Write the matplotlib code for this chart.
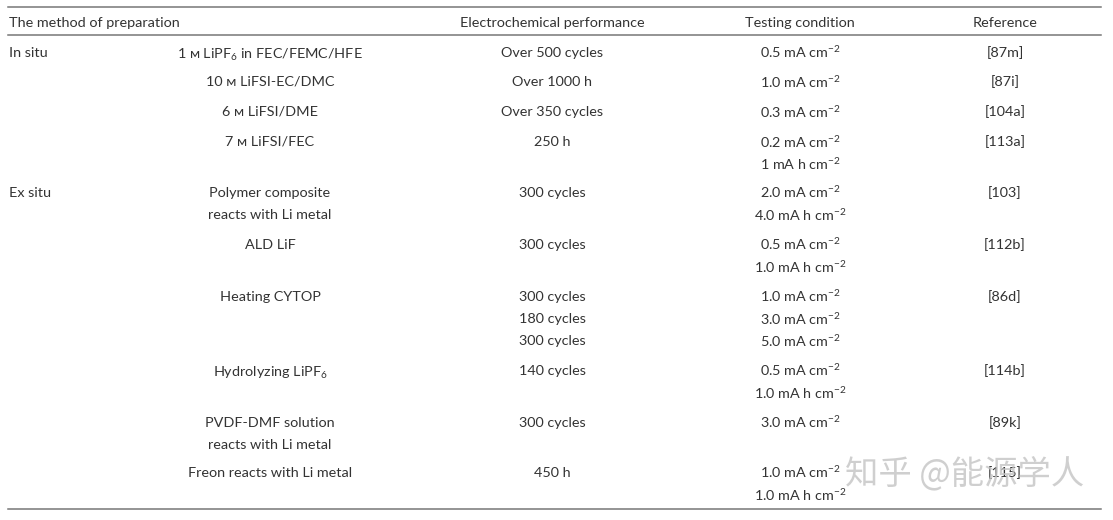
import matplotlib
matplotlib.use('Agg')
import matplotlib.pyplot as plt

plt.rcParams['font.family'] = ['Lato', 'Open Sans', 'DejaVu Sans']
plt.rcParams['mathtext.default'] = 'regular'

headers = ['The method of preparation', 'Electrochemical performance', 'Testing condition', 'Reference']

groups = ['In situ', '', '', '', 'Ex situ', '', '', '', '', '']
methods = [
    ['1 м LiPF$_6$ in FEC/FEMC/HFE'],
    ['10 м LiFSI-EC/DMC'],
    ['6 м LiFSI/DME'],
    ['7 м LiFSI/FEC'],
    ['Polymer composite', 'reacts with Li metal'],
    ['ALD LiF'],
    ['Heating CYTOP'],
    ['Hydrolyzing LiPF$_6$'],
    ['PVDF-DMF solution', 'reacts with Li metal'],
    ['Freon reacts with Li metal'],
]
performance = [
    ['Over 500 cycles'],
    ['Over 1000 h'],
    ['Over 350 cycles'],
    ['250 h'],
    ['300 cycles'],
    ['300 cycles'],
    ['300 cycles', '180 cycles', '300 cycles'],
    ['140 cycles'],
    ['300 cycles'],
    ['450 h'],
]
conditions = [
    ['0.5 mA cm$^{-2}$'],
    ['1.0 mA cm$^{-2}$'],
    ['0.3 mA cm$^{-2}$'],
    ['0.2 mA cm$^{-2}$', '1 mA h cm$^{-2}$'],
    ['2.0 mA cm$^{-2}$', '4.0 mA h cm$^{-2}$'],
    ['0.5 mA cm$^{-2}$', '1.0 mA h cm$^{-2}$'],
    ['1.0 mA cm$^{-2}$', '3.0 mA cm$^{-2}$', '5.0 mA cm$^{-2}$'],
    ['0.5 mA cm$^{-2}$', '1.0 mA h cm$^{-2}$'],
    ['3.0 mA cm$^{-2}$'],
    ['1.0 mA cm$^{-2}$', '1.0 mA h cm$^{-2}$'],
]
references = ['[87m]', '[87i]', '[104a]', '[113a]', '[103]', '[112b]', '[86d]', '[114b]', '[89k]', '[115]']

# table layout in pixels, y is the text baseline
header_y = 27
row_y = [57, 86, 116, 146, 197, 249, 301, 375, 427, 477]
line_step = 22.2
col_x = [270, 552, 800, 1005]
text_color = '#333333'
font_size = 10.4


def draw_lines(ax, x, y, lines):
    for i, line in enumerate(lines):
        # mathtext sits a bit high on the baseline
        shift = 1.5 if '$' in line else 0
        ax.text(x, y + i * line_step + shift, line, ha='center', va='baseline',
                color=text_color, fontsize=font_size)


fig = plt.figure(figsize=(11.13, 5.2), dpi=100)
ax = fig.add_axes([0, 0, 1, 1])
ax.set_xlim(0, 1113)
ax.set_ylim(520, 0)
ax.axis('off')

for y in [7, 35, 509]:
    ax.plot([8, 1101], [y, y], color='#777777', lw=1.1)

ax.text(9, header_y, headers[0], ha='left', va='baseline', color=text_color, fontsize=font_size)
for x, header in zip(col_x[1:], headers[1:]):
    ax.text(x, header_y, header, ha='center', va='baseline', color=text_color, fontsize=font_size)

for i, y in enumerate(row_y):
    ax.text(9, y, groups[i], ha='left', va='baseline', color=text_color, fontsize=font_size)
    draw_lines(ax, col_x[0], y, methods[i])
    draw_lines(ax, col_x[1], y, performance[i])
    draw_lines(ax, col_x[2], y, conditions[i])
    draw_lines(ax, col_x[3], y, [references[i]])

# watermark
ax.text(965, 475, '知乎 @能源学人', ha='center', va='center', color='#c4c4c4', alpha=0.8,
        fontsize=24, family=['Noto Sans CJK SC', 'DejaVu Sans'])

fig.savefig('out.png', dpi=100)
plt.close(fig)
